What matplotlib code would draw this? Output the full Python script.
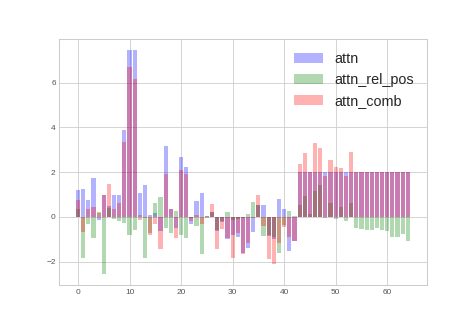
import numpy as np
import matplotlib
matplotlib.use("Agg")
import matplotlib.pyplot as plt

plt.style.use("seaborn-v0_8-whitegrid")

# attention scores per position
attn = [1.21, 1.24, 0.76, 1.74, -0.13, 0.99, 0.50, 0.97, 0.97, 3.90,
        7.46, 7.46, 1.05, 1.44, 0.07, 0.18, -0.63, 3.15, 0.34, -0.48,
        2.67, 2.25, -0.33, 0.70, 1.05, 0.03, 0.24, -0.65, -0.25, -1.00,
        -0.82, -0.88, -1.60, -1.38, -0.67, 0.52, 0.52, -0.85, -1.00, 0.82,
        0.35, -1.53, -1.08, 2.0, 2.0, 2.0, 2.0, 2.0, 2.0, 2.0,
        2.0, 2.0, 2.0, 2.0, 2.0, 2.0, 2.0, 2.0, 2.0, 2.0,
        2.0, 2.0, 2.0, 2.0, 2.0]
attn_rel_pos = [0.37, -1.83, -0.30, -0.96, 0.22, -2.55, 0.40, -0.10, -0.18, -0.28,
                -0.82, -0.58, 0.10, -1.86, -0.70, 0.61, 0.90, -0.48, -0.73, 0.27,
                -0.81, -0.93, -0.05, -0.40, -1.68, -0.05, 0.20, -0.60, -0.20, 0.24,
                -0.15, -0.10, -0.05, 0.12, 0.65, 0.52, -0.85, -0.80, -0.90, -1.60,
                -0.35, 0.27, 0.05, 0.53, 0.94, 0.12, 1.14, 1.42, -0.06, 0.60,
                -0.08, 0.43, -0.20, 0.62, -0.48, -0.55, -0.60, -0.60, -0.50, -0.60,
                -0.63, -0.88, -0.88, -0.78, -1.08]
attn_comb = [0.75, -0.67, 0.37, 0.42, 0.18, 0.99, 1.48, 0.34, 0.60, 3.34,
             6.71, 6.19, -0.15, -0.05, -0.80, -0.30, -1.45, 1.92, 0.36, -0.96,
             2.11, 1.92, -0.18, 0.08, -0.33, 0.02, 0.57, -1.45, -0.55, -0.95,
             -1.83, -0.70, -1.68, -1.15, -0.05, 1.00, -0.40, -1.90, -2.10, -1.15,
             -0.45, -0.90, -1.10, 2.37, 2.88, 2.0, 3.31, 3.10, 1.83, 2.55,
             2.22, 2.17, 1.83, 2.92, 2.0, 2.0, 2.0, 2.0, 2.0, 2.0,
             2.0, 2.0, 2.0, 2.0, 2.0]

pos = np.arange(len(attn))

fig = plt.figure(figsize=(474 / 74, 325 / 74), dpi=74)
fig.subplots_adjust(bottom=0.123)
ax = fig.add_subplot(111)
ax.bar(pos, attn, color="b", alpha=0.3, label="attn")
ax.bar(pos, attn_rel_pos, color="g", alpha=0.3, label="attn_rel_pos")
ax.bar(pos, attn_comb, color="r", alpha=0.3, label="attn_comb")
ax.tick_params(labelsize=8, labelcolor="#555555")
ax.legend(loc="upper right", fontsize=14)

fig.savefig("out.png", dpi=74)
